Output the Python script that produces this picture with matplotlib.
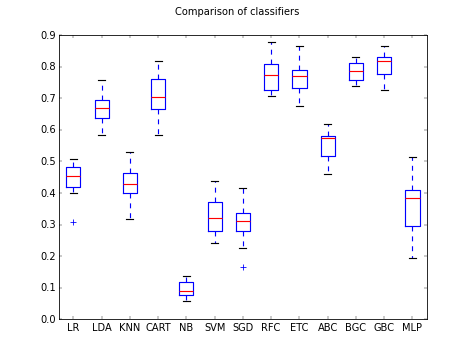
"""Box plot comparing cross-validation scores of classifiers."""

import matplotlib

matplotlib.use("Agg")
import matplotlib.pyplot as plt

names = ["LR", "LDA", "KNN", "CART", "NB", "SVM", "SGD", "RFC", "ETC", "ABC", "BGC", "GBC", "MLP"]
whislo = [0.400, 0.585, 0.318, 0.585, 0.059, 0.241, 0.225, 0.707, 0.677, 0.461, 0.738, 0.727, 0.196]
q1 = [0.419, 0.638, 0.399, 0.665, 0.076, 0.280, 0.280, 0.727, 0.731, 0.516, 0.758, 0.777, 0.296]
med = [0.455, 0.669, 0.428, 0.703, 0.091, 0.320, 0.311, 0.773, 0.771, 0.573, 0.785, 0.817, 0.383]
q3 = [0.482, 0.693, 0.463, 0.761, 0.117, 0.372, 0.336, 0.808, 0.788, 0.582, 0.813, 0.830, 0.409]
whishi = [0.508, 0.757, 0.531, 0.817, 0.138, 0.439, 0.416, 0.878, 0.865, 0.619, 0.830, 0.865, 0.515]
fliers = [[0.308], [], [], [], [], [], [0.167], [], [], [], [], [], []]

plt.style.use("classic")

stats = []
for i, name in enumerate(names):
    stats.append(
        {
            "label": name,
            "whislo": whislo[i],
            "q1": q1[i],
            "med": med[i],
            "q3": q3[i],
            "whishi": whishi[i],
            "fliers": fliers[i],
        }
    )

fig = plt.figure(figsize=(8, 6), facecolor="white")
fig.suptitle("Comparison of classifiers")
ax = fig.add_subplot(111)
ax.bxp(
    stats,
    boxprops={"color": "b", "linewidth": 1.4},
    whiskerprops={"color": "b", "linestyle": "--", "linewidth": 1.4},
    capprops={"color": "k", "linewidth": 1.4},
    medianprops={"color": "r", "linewidth": 1.4},
    flierprops={"marker": "+", "markeredgecolor": "b", "markersize": 7},
)
ax.set_ylim(0.0, 0.9)
ax.set_xticklabels(names)

fig.savefig("out.png", dpi=59.25, facecolor="white")
